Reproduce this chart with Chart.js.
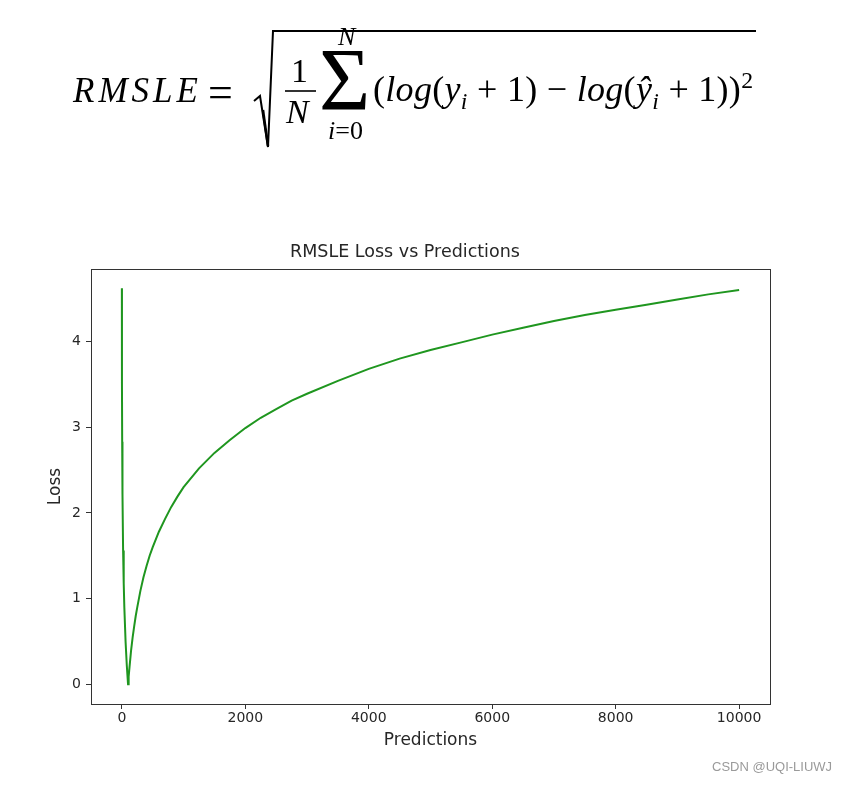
<!DOCTYPE html>
<html lang="en">
<head>
  <meta charset="UTF-8">
  <title>RMSLE Loss vs Predictions</title>
  <script src="https://cdn.jsdelivr.net/npm/chart.js"></script>
  <style>
    * {
      box-sizing: border-box;
      margin: 0;
      padding: 0;
    }

    body {
      background: #fff;
      width: 850px;
      height: 786px;
      position: relative;
      overflow: hidden;
    }

    .chart-container {
      position: absolute;
      left: 0;
      top: 0;
      width: 850px;
      height: 786px;
    }

    .formula {
      position: absolute;
      left: 0;
      top: 0;
      width: 850px;
      height: 170px;
      font-family: 'Liberation Serif', 'DejaVu Serif', serif;
      color: #000;
      z-index: 2;
    }

    .formula span.part {
      position: absolute;
      line-height: 1;
      white-space: nowrap;
    }

    .formula i {
      font-style: italic;
    }

    .formula sub, .formula sup {
      font-size: 0.66em;
      line-height: 0;
    }

    .formula svg {
      position: absolute;
      left: 0;
      top: 0;
    }

    .watermark {
      position: absolute;
      left: 712px;
      top: 759px;
      font-family: 'Liberation Sans', Arial, sans-serif;
      font-size: 13px;
      color: #9a9a9a;
      z-index: 2;
    }
  </style>
</head>
<body>
  <div class="formula">
    <svg width="850" height="170">
      <!-- radical sign and its bar -->
      <polyline points="254,101 260,96 268,147 273,31 756,31" fill="none" stroke="#000" stroke-width="2" />
      <line x1="263" y1="110" x2="268" y2="146" stroke="#000" stroke-width="2.5" />
      <line x1="285" y1="91" x2="316" y2="91" stroke="#000" stroke-width="1.6" />
    </svg>
    <span class="part" style="left:73px; top:73px; font-size:35px; letter-spacing:4px;"><i>RMSLE</i></span>
    <span class="part" style="left:208px; top:71px; font-size:44px;">=</span>
    <span class="part" style="left:291px; top:54px; font-size:34px;">1</span>
    <span class="part" style="left:286px; top:95px; font-size:34px;"><i>N</i></span>
    <span class="part" style="left:319px; top:36px; font-size:88px;">Σ</span>
    <span class="part" style="left:338px; top:24px; font-size:26px;"><i>N</i></span>
    <span class="part" style="left:328px; top:118px; font-size:26px;"><i>i</i>=0</span>
    <span class="part" style="left:373px; top:71px; font-size:36px; letter-spacing:0.3px;">(<i>log</i>(<i>y</i><sub><i>i</i></sub> + 1) − <i>log</i>(<i>ŷ</i><sub><i>i</i></sub> + 1))<sup>2</sup></span>
  </div>

  <div class="chart-container">
    <canvas id="lossChart"></canvas>
  </div>

  <div class="watermark">CSDN @UQI-LIUWJ</div>

  <script>
    // values (true value sits at 100)
    const predictions = [0, 1, 2, 5, 10, 20, 30, 40, 60, 80, 100, 110, 125, 150, 175, 200, 225, 250,
      300, 350, 400, 450, 500, 600, 700, 800, 900, 1000, 1250, 1500, 1750, 2000, 2250, 2500,
      2750, 3000, 3500, 4000, 4500, 5000, 5500, 6000, 6500, 7000, 7500, 8000, 8500, 9000,
      9500, 10000];
    const loss = [4.62, 3.92, 3.51, 2.83, 2.22, 1.56, 1.18, 0.90, 0.50, 0.22, 0.00, 0.09, 0.21, 0.40, 0.55, 0.68, 0.80, 0.90,
      1.09, 1.25, 1.38, 1.50, 1.60, 1.78, 1.93, 2.07, 2.19, 2.30, 2.52, 2.70, 2.85, 2.99, 3.11, 3.21,
      3.31, 3.39, 3.54, 3.68, 3.80, 3.90, 3.99, 4.08, 4.16, 4.24, 4.31, 4.37, 4.43, 4.49,
      4.55, 4.60];

    const xTicks = [0, 2000, 4000, 6000, 8000, 10000];
    const yTicks = [0, 1, 2, 3, 4];

    const axisColor = '#333';
    const textColor = '#262626';
    const font = 'DejaVu Sans';

    // matplotlib style box round the plot area
    const frame = {
      id: 'frame',
      afterDraw(chart) {
        const { ctx, chartArea: a } = chart;
        ctx.save();
        ctx.strokeStyle = axisColor;
        ctx.lineWidth = 1;
        ctx.strokeRect(a.left + 0.5, a.top + 0.5, a.right - a.left, a.bottom - a.top);
        ctx.restore();
      }
    };

    const ctx = document.getElementById('lossChart').getContext('2d');
    const chart = new Chart(ctx, {
      type: 'line',
      data: {
        datasets: [{
          label: 'RMSLE',
          data: predictions.map((x, i) => ({ x: x, y: loss[i] })),
          borderColor: '#1f961f',
          borderWidth: 2,
          pointRadius: 0,
          tension: 0,
          fill: false
        }]
      },
      plugins: [frame],
      options: {
        responsive: true,
        maintainAspectRatio: false,
        animation: false,
        layout: {
          padding: { top: 242, left: 40, right: 80, bottom: 32 }
        },
        plugins: {
          legend: { display: false },
          tooltip: { enabled: false },
          title: {
            display: true,
            text: 'RMSLE Loss vs Predictions',
            color: textColor,
            font: { family: font, size: 17.5, weight: 'normal' },
            padding: { top: 0, bottom: 6 }
          }
        },
        scales: {
          x: {
            type: 'linear',
            min: -500,
            max: 10500,
            afterBuildTicks: s => { s.ticks = xTicks.map(v => ({ value: v })); },
            afterFit: s => { s.height = 50; },
            border: { display: false },
            grid: { drawOnChartArea: false, drawTicks: true, tickLength: 5, color: axisColor },
            ticks: {
              color: textColor,
              padding: 1,
              maxRotation: 0,
              font: { family: font, size: 14 },
              callback: v => String(v)
            },
            title: {
              display: true,
              text: 'Predictions',
              color: textColor,
              font: { family: font, size: 17 },
              padding: { top: 2, bottom: 3 }
            }
          },
          y: {
            min: -0.23,
            max: 4.846,
            afterBuildTicks: s => { s.ticks = yTicks.map(v => ({ value: v })); },
            afterFit: s => { s.width = 51; },
            border: { display: false },
            grid: { drawOnChartArea: false, drawTicks: true, tickLength: 5, color: axisColor },
            ticks: {
              color: textColor,
              padding: 5,
              font: { family: font, size: 14 },
              callback: v => String(v)
            },
            title: {
              display: true,
              text: 'Loss',
              color: textColor,
              font: { family: font, size: 17 },
              padding: { top: 5, bottom: 0 }
            }
          }
        }
      }
    });
  </script>
</body>
</html>
